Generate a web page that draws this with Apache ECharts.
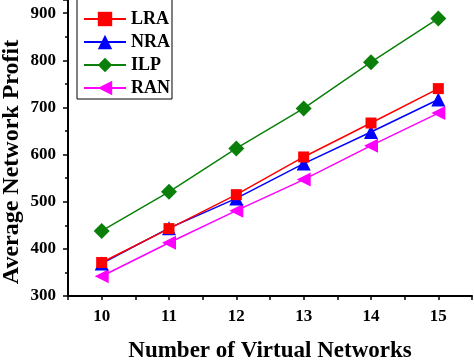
<!DOCTYPE html>
<html>
<head>
<meta charset="utf-8">
<script src="https://cdn.jsdelivr.net/npm/echarts@6/dist/echarts.min.js"></script>
<style>html,body{margin:0;padding:0;background:#fff;}#c{width:474px;height:361px;}</style>
</head>
<body>
<div id="c"></div>
<script>
const xValues = [10, 11, 12, 13, 14, 15];
const seriesNames = ['LRA', 'NRA', 'ILP', 'RAN'];
const lraValues = [371, 443, 515, 595, 667, 740];
const nraValues = [369, 444, 507, 581, 648, 717];
const ilpValues = [438, 521, 613, 698, 796, 889];
const ranValues = [342, 413, 481, 547, 619, 688];
const yTicks = [300, 400, 500, 600, 700, 800, 900];
const xTicks = [10, 11, 12, 13, 14, 15];

const FONT = "'Liberation Serif','Times New Roman',serif";
const chart = echarts.init(document.getElementById('c'), null, {renderer: 'canvas'});
function pairs(vals) { return xValues.map((x, i) => [x, vals[i]]); }

const styles = [
  {color: '#ff0000', symbol: 'rect', size: 11, rotate: 0},
  {color: '#0000ff', symbol: 'triangle', size: 14, rotate: 0},
  {color: '#0a800a', symbol: 'diamond', size: 16, rotate: 0},
  {color: '#ff00ff', symbol: 'triangle', size: 14, rotate: 90}
];
const allVals = [lraValues, nraValues, ilpValues, ranValues];

chart.setOption({
  animation: false,
  backgroundColor: '#fff',
  grid: {left: 68, right: 2, top: 0, bottom: 65, containLabel: false, outerBoundsMode: 'none'},
  legend: {
    orient: 'vertical',
    left: 77, top: -2,
    padding: [12, 2, 2, 6],
    borderColor: '#000', borderWidth: 1,
    itemWidth: 42, itemHeight: 18, itemGap: 5,
    data: seriesNames,
    textStyle: {fontFamily: FONT, fontWeight: 'bold', fontSize: 18, color: '#000', lineHeight: 18, padding: [0,0,0,0]}
  },
  xAxis: {
    type: 'value', min: 9.5, max: 15.5, interval: 0.5,
    axisLine: {show: true, lineStyle: {color: '#000', width: 2}},
    axisTick: {show: true, length: 4, lineStyle: {color: '#000', width: 1.5}},
    splitLine: {show: false},
    axisLabel: {
      margin: 12, color: '#000', fontFamily: FONT, fontWeight: 'bold', fontSize: 17,
      formatter: v => (xTicks.indexOf(v) >= 0 ? String(v) : '')
    },
    name: 'Number of Virtual Networks', nameLocation: 'middle', nameGap: 44, nameMoveOverlap: false,
    nameTextStyle: {fontFamily: FONT, fontWeight: 'bold', fontSize: 23, color: '#000'}
  },
  yAxis: {
    type: 'value', min: 300, max: 928, interval: 100,
    axisLine: {show: true, lineStyle: {color: '#000', width: 2}},
    axisTick: {show: true, length: 5, lineStyle: {color: '#000', width: 1.5}},
    minorTick: {show: true, splitNumber: 2, length: 3, lineStyle: {color: '#000', width: 1.5}},
    splitLine: {show: false},
    axisLabel: {
      margin: 12, color: '#000', fontFamily: FONT, fontWeight: 'bold', fontSize: 17, showMaxLabel: false,
      formatter: v => (yTicks.indexOf(v) >= 0 ? String(v) : '')
    },
    name: 'Average Network Profit', nameLocation: 'middle', nameGap: 44, nameRotate: 90, nameMoveOverlap: false,
    nameTextStyle: {fontFamily: FONT, fontWeight: 'bold', fontSize: 24, color: '#000', padding: [0, 28, 0, 0]}
  },
  series: seriesNames.map((name, i) => ({
    name: name, type: 'line',
    data: pairs(allVals[i]),
    symbol: styles[i].symbol, symbolSize: styles[i].size, symbolRotate: styles[i].rotate,
    lineStyle: {color: styles[i].color, width: 1.5},
    itemStyle: {color: styles[i].color},
    z: 2 + (3 - i)
  }))
});
</script>
</body>
</html>
